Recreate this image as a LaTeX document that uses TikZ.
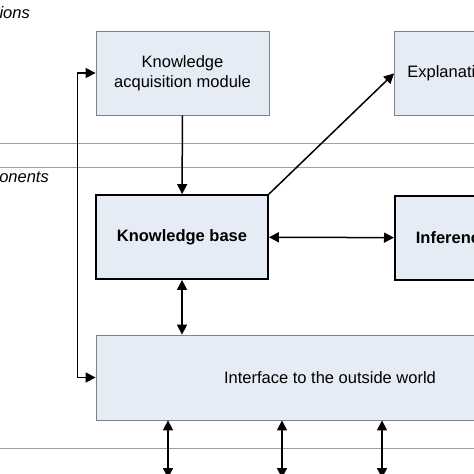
\documentclass[tikz,border=0pt]{standalone}
\usepackage{fontspec}
\setmainfont{Liberation Sans}
\usetikzlibrary{arrows.meta}
\definecolor{boxfill}{RGB}{230,236,246}
\definecolor{boxline}{RGB}{128,128,128}
\definecolor{sepline}{RGB}{160,160,160}
\tikzset{
  module/.style={draw=boxline,fill=boxfill,line width=0.8pt,minimum width=173pt,minimum height=84pt,
    inner sep=0pt,align=center,font=\fontsize{16.5}{20}\selectfont},
  core/.style={module,draw=black,line width=1.8pt,font=\fontsize{16.5}{20}\selectfont\bfseries},
  lane/.style={inner sep=0pt,font=\fontsize{16.5}{20}\selectfont\itshape},
  tip/.tip={Triangle[length=10pt,width=10pt]},
  flow/.style={line width=1.5pt,-tip},
  bothflow/.style={line width=1.5pt,tip-tip},
}
\begin{document}
\begin{tikzpicture}[x=1pt,y=-1pt]
  \useasboundingbox (0,0) rectangle (474,474);
  \clip (0,0) rectangle (474,474);

  \foreach \y in {143,167,448} {
    \draw[sepline,line width=0.8pt] (0,\y) -- (474,\y);
  }

  \node[lane,anchor=east] (toplane) at (30,13) {ions};
  \node[lane,anchor=east] (corelane) at (49,179) {ponents};

  \node[module] (acq) at (182.5,73) {Knowledge\\acquisition module};
  \node[module,anchor=north west,text width=147pt,inner xsep=13pt,align=left] (expl) at (394,31) {Explanation};
  \node[core,minimum width=172pt] (kb) at (182,237) {Knowledge base};
  \node[core,anchor=north west,text width=131pt,inner xsep=21pt,align=left] (inf) at (394,195) {Inference};
  \node[module,minimum width=468pt,minimum height=85pt] (iface) at (330,377.5) {Interface to the outside world};

  \draw[flow] (acq) -- (kb);
  \draw[bothflow] (kb) -- (inf);
  \draw[flow] (kb.north east) -- (expl.west);
  \draw[bothflow] (kb) -- (kb |- iface.north);
  \draw[bothflow] (acq.west) -- ++(-18,0) |- (iface.west);

  \foreach \x [count=\i] in {168,282,382} {
    \coordinate (out\i) at (\x,478);
    \draw[bothflow] (iface.south -| out\i) -- (out\i);
  }
\end{tikzpicture}
\end{document}
